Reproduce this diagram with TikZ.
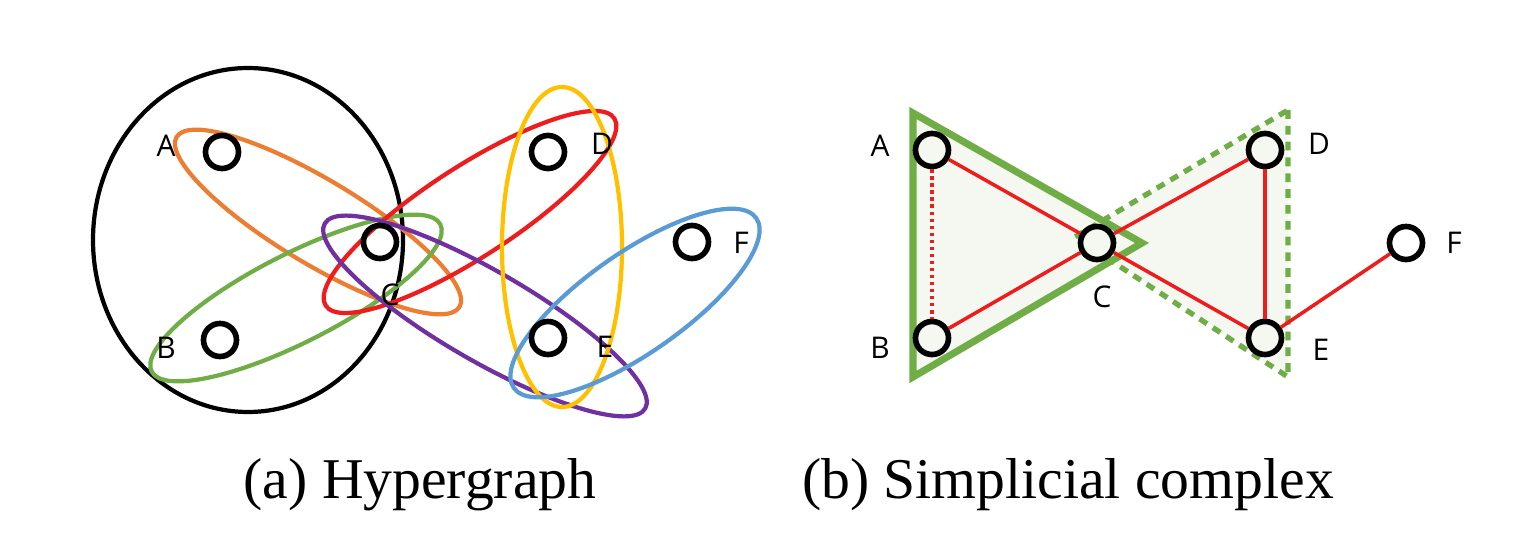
\documentclass[tikz,border=0pt]{standalone}
\usepackage{fontspec}
\setmainfont{Liberation Serif}
\newfontfamily\lab{Open Sans}
\definecolor{oorange}{HTML}{ED7D31}
\definecolor{ogreen}{HTML}{70AD47}
\definecolor{oyellow}{HTML}{FFC000}
\definecolor{opurple}{HTML}{7030A0}
\definecolor{oblue}{HTML}{5B9BD5}
\definecolor{ored}{HTML}{EE1C1C}
\begin{document}
\begin{tikzpicture}[x=0.01cm,y=-0.01cm,
  vtx/.style={circle,draw=black,line width=1.6pt,minimum size=0.33cm,inner sep=0pt},
  svtx/.style={vtx,fill=ogreen!8},
  lbl/.style={font=\lab\fontsize{8.5}{10}\selectfont},
  captext/.style={font=\fontsize{16.4}{19}\selectfont},
  he/.style={line width=1.2pt},
  ed/.style={ored,line width=1pt}]
\useasboundingbox (0,0) rectangle (1530,552);
% left panel
\draw[he,black] (248,240) ellipse [x radius=155,y radius=172];
\draw[he,oorange,rotate around={-31:(318,222)}] (318,222) ellipse [x radius=165,y radius=42];
\draw[he,ogreen,rotate around={27:(296,298)}] (296,298) ellipse [x radius=162,y radius=44];
\draw[he,ored,rotate around={33:(470,212)}] (470,212) ellipse [x radius=172,y radius=45];
\draw[he,opurple,rotate around={-30:(485,316)}] (485,316) ellipse [x radius=185,y radius=45];
\draw[he,oyellow] (562,247) ellipse [x radius=60,y radius=160];
\draw[he,oblue,rotate around={35:(635,303)}] (635,303) ellipse [x radius=148,y radius=50];
\node[vtx] (a1) at (222,152) {}; \node[vtx] (b1) at (220,340) {};
\node[vtx] (c1) at (380,242) {}; \node[vtx] (d1) at (548,152) {};
\node[vtx] (e1) at (548,338) {}; \node[vtx] (f1) at (692,242) {};
\node[lbl] (la1) at (166,146) {A}; \node[lbl] (lb1) at (166,348) {B};
\node[lbl] (lc1) at (390,295) {C}; \node[lbl] (ld1) at (602,144) {D};
\node[lbl] (le1) at (605,347) {E}; \node[lbl] (lf1) at (741,243) {F};
\node[captext] (ca) at (420,485) {(a) Hypergraph};
% right panel
\fill[ogreen!8] (913,113) -- (913,377) -- (1142,243) -- cycle;
\fill[ogreen!8] (1288,110) -- (1288,377) -- (1075,237) -- cycle;
\draw[ogreen,line width=1.5pt,dash pattern=on 2.5pt off 2pt] (1288,110) -- (1288,377) -- (1075,237) -- cycle;
\draw[ogreen,line width=2pt,line join=miter] (913,113) -- (913,377) -- (1142,243) -- cycle;
\node[svtx] (a2) at (932,150) {}; \node[svtx] (b2) at (932,338) {};
\node[svtx] (c2) at (1097,243) {}; \node[svtx] (d2) at (1265,150) {};
\node[svtx] (e2) at (1265,338) {}; \node[vtx,fill=white] (f2) at (1406,243) {};
\draw[ed] (a2) -- (c2); \draw[ed] (b2) -- (c2); \draw[ed] (c2) -- (d2);
\draw[ed] (c2) -- (e2); \draw[ed] (d2) -- (e2); \draw[ed] (e2) -- (f2);
\draw[ed,densely dotted] (a2) -- (b2);
\node[lbl] (la2) at (880,146) {A}; \node[lbl] (lb2) at (880,348) {B};
\node[lbl] (lc2) at (1102,297) {C}; \node[lbl] (ld2) at (1319,144) {D};
\node[lbl] (le2) at (1321,350) {E}; \node[lbl] (lf2) at (1454,243) {F};
\node[captext] (cb) at (1068,485) {(b) Simplicial complex};
\end{tikzpicture}
\end{document}
